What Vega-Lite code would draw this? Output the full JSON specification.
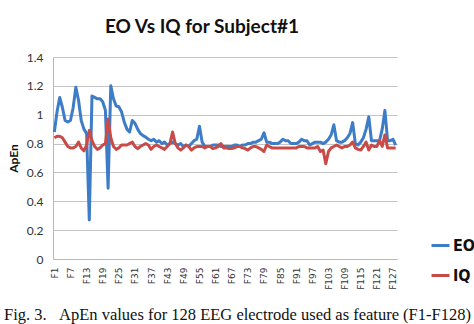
{
  "$schema": "https://vega.github.io/schema/vega-lite/v6.json",
  "width": 344,
  "height": 202,
  "autosize": {"type": "none"},
  "padding": {"left": 53, "top": 57, "right": 77, "bottom": 65},
  "background": "white",
  "title": {
    "text": "EO Vs IQ for Subject#1",
    "font": "Lato",
    "fontSize": 19,
    "fontWeight": "bold",
    "color": "#111111",
    "anchor": "middle",
    "dx": -23,
    "offset": 14
  },
  "data": {
    "values": [
      {"i":1,"EO":0.88,"IQ":0.84},{"i":2,"EO":1.02,"IQ":0.85},{"i":3,"EO":1.12,"IQ":0.85},{"i":4,"EO":1.05,"IQ":0.84},
      {"i":5,"EO":0.96,"IQ":0.81},{"i":6,"EO":0.95,"IQ":0.78},{"i":7,"EO":0.96,"IQ":0.77},{"i":8,"EO":1.05,"IQ":0.77},
      {"i":9,"EO":1.19,"IQ":0.78},{"i":10,"EO":1.10,"IQ":0.81},{"i":11,"EO":0.96,"IQ":0.77},{"i":12,"EO":0.90,"IQ":0.75},
      {"i":13,"EO":0.87,"IQ":0.79},{"i":14,"EO":0.27,"IQ":0.89},{"i":15,"EO":1.13,"IQ":0.82},{"i":16,"EO":1.12,"IQ":0.78},
      {"i":17,"EO":1.11,"IQ":0.76},{"i":18,"EO":1.11,"IQ":0.77},{"i":19,"EO":1.09,"IQ":0.79},{"i":20,"EO":1.03,"IQ":0.80},
      {"i":21,"EO":0.49,"IQ":0.97},{"i":22,"EO":1.20,"IQ":0.84},{"i":23,"EO":1.11,"IQ":0.78},{"i":24,"EO":1.06,"IQ":0.76},
      {"i":25,"EO":1.055,"IQ":0.77},{"i":26,"EO":1.02,"IQ":0.79},{"i":27,"EO":0.95,"IQ":0.79},{"i":28,"EO":0.90,"IQ":0.79},
      {"i":29,"EO":0.88,"IQ":0.80},{"i":30,"EO":0.96,"IQ":0.81},{"i":31,"EO":0.94,"IQ":0.78},{"i":32,"EO":0.90,"IQ":0.765},
      {"i":33,"EO":0.87,"IQ":0.78},{"i":34,"EO":0.855,"IQ":0.79},{"i":35,"EO":0.845,"IQ":0.80},{"i":36,"EO":0.83,"IQ":0.79},
      {"i":37,"EO":0.82,"IQ":0.76},{"i":38,"EO":0.83,"IQ":0.78},{"i":39,"EO":0.81,"IQ":0.79},{"i":40,"EO":0.82,"IQ":0.78},
      {"i":41,"EO":0.80,"IQ":0.77},{"i":42,"EO":0.81,"IQ":0.76},{"i":43,"EO":0.79,"IQ":0.78},{"i":44,"EO":0.80,"IQ":0.80},
      {"i":45,"EO":0.81,"IQ":0.88},{"i":46,"EO":0.80,"IQ":0.80},{"i":47,"EO":0.79,"IQ":0.77},{"i":48,"EO":0.80,"IQ":0.755},
      {"i":49,"EO":0.78,"IQ":0.77},{"i":50,"EO":0.79,"IQ":0.79},{"i":51,"EO":0.78,"IQ":0.78},{"i":52,"EO":0.80,"IQ":0.755},
      {"i":53,"EO":0.82,"IQ":0.77},{"i":54,"EO":0.83,"IQ":0.78},{"i":55,"EO":0.92,"IQ":0.78},{"i":56,"EO":0.81,"IQ":0.78},
      {"i":57,"EO":0.78,"IQ":0.77},{"i":58,"EO":0.78,"IQ":0.78},{"i":59,"EO":0.78,"IQ":0.78},{"i":60,"EO":0.79,"IQ":0.765},
      {"i":61,"EO":0.79,"IQ":0.77},{"i":62,"EO":0.79,"IQ":0.78},{"i":63,"EO":0.78,"IQ":0.80},{"i":64,"EO":0.78,"IQ":0.77},
      {"i":65,"EO":0.78,"IQ":0.77},{"i":66,"EO":0.78,"IQ":0.765},{"i":67,"EO":0.78,"IQ":0.765},{"i":68,"EO":0.79,"IQ":0.77},
      {"i":69,"EO":0.79,"IQ":0.78},{"i":70,"EO":0.78,"IQ":0.78},{"i":71,"EO":0.79,"IQ":0.77},{"i":72,"EO":0.79,"IQ":0.765},
      {"i":73,"EO":0.80,"IQ":0.755},{"i":74,"EO":0.80,"IQ":0.77},{"i":75,"EO":0.81,"IQ":0.78},{"i":76,"EO":0.81,"IQ":0.78},
      {"i":77,"EO":0.82,"IQ":0.77},{"i":78,"EO":0.83,"IQ":0.76},{"i":79,"EO":0.875,"IQ":0.745},{"i":80,"EO":0.81,"IQ":0.79},
      {"i":81,"EO":0.81,"IQ":0.78},{"i":82,"EO":0.80,"IQ":0.77},{"i":83,"EO":0.80,"IQ":0.77},{"i":84,"EO":0.80,"IQ":0.77},
      {"i":85,"EO":0.81,"IQ":0.77},{"i":86,"EO":0.83,"IQ":0.77},{"i":87,"EO":0.82,"IQ":0.77},{"i":88,"EO":0.82,"IQ":0.77},
      {"i":89,"EO":0.80,"IQ":0.77},{"i":90,"EO":0.80,"IQ":0.77},{"i":91,"EO":0.80,"IQ":0.77},{"i":92,"EO":0.81,"IQ":0.78},
      {"i":93,"EO":0.83,"IQ":0.78},{"i":94,"EO":0.82,"IQ":0.78},{"i":95,"EO":0.82,"IQ":0.77},{"i":96,"EO":0.79,"IQ":0.77},
      {"i":97,"EO":0.80,"IQ":0.77},{"i":98,"EO":0.81,"IQ":0.77},{"i":99,"EO":0.81,"IQ":0.78},{"i":100,"EO":0.81,"IQ":0.745},
      {"i":101,"EO":0.80,"IQ":0.755},{"i":102,"EO":0.81,"IQ":0.66},{"i":103,"EO":0.83,"IQ":0.745},{"i":104,"EO":0.86,"IQ":0.77},
      {"i":105,"EO":0.93,"IQ":0.78},{"i":106,"EO":0.82,"IQ":0.79},{"i":107,"EO":0.81,"IQ":0.78},{"i":108,"EO":0.81,"IQ":0.77},
      {"i":109,"EO":0.82,"IQ":0.78},{"i":110,"EO":0.84,"IQ":0.78},{"i":111,"EO":0.87,"IQ":0.79},{"i":112,"EO":0.945,"IQ":0.81},
      {"i":113,"EO":0.80,"IQ":0.77},{"i":114,"EO":0.79,"IQ":0.76},{"i":115,"EO":0.81,"IQ":0.755},{"i":116,"EO":0.84,"IQ":0.78},
      {"i":117,"EO":0.90,"IQ":0.81},{"i":118,"EO":0.985,"IQ":0.755},{"i":119,"EO":0.82,"IQ":0.79},{"i":120,"EO":0.82,"IQ":0.78},
      {"i":121,"EO":0.82,"IQ":0.78},{"i":122,"EO":0.82,"IQ":0.82},{"i":123,"EO":0.90,"IQ":0.78},{"i":124,"EO":1.03,"IQ":0.86},
      {"i":125,"EO":0.82,"IQ":0.77},{"i":126,"EO":0.82,"IQ":0.77},{"i":127,"EO":0.83,"IQ":0.77},{"i":128,"EO":0.79,"IQ":0.77}
    ]
  },
  "transform": [{"fold": ["EO", "IQ"], "as": ["series", "apen"]}],
  "mark": {"type": "line", "strokeWidth": 3, "strokeJoin": "round"},
  "encoding": {
    "x": {
      "field": "i",
      "type": "quantitative",
      "scale": {"domain": [0.5, 128.5], "nice": false, "zero": false},
      "axis": {
        "values": [1,7,13,19,25,31,37,43,49,55,61,67,73,79,85,91,97,103,109,115,121,127],
        "labelExpr": "'F' + datum.value",
        "labelAngle": -90,
        "labelAlign": "right",
        "labelBaseline": "middle",
        "labelFont": "DejaVu Sans",
        "labelFontSize": 9,
        "labelColor": "#333333",
        "labelPadding": 8,
        "ticks": false,
        "grid": false,
        "domainColor": "#b8b8b8",
        "domainWidth": 1,
        "labelOverlap": false,
        "labelFlush": false,
        "title": "Fig. 3.\u00a0\u00a0\u00a0ApEn values for 128 EEG electrode used as feature (F1-F128)",
        "titleFont": "Liberation Serif",
        "titleFontSize": 16.5,
        "titleFontWeight": "normal",
        "titleColor": "#111111",
        "titleX": 184,
        "titleY": 60,
        "titleBaseline": "alphabetic",
        "titleAnchor": "middle"
      }
    },
    "y": {
      "field": "apen",
      "type": "quantitative",
      "scale": {"domain": [0, 1.4], "nice": false},
      "axis": {
        "values": [0, 0.2, 0.4, 0.6, 0.8, 1, 1.2, 1.4],
        "format": "~g",
        "labelFont": "Lato",
        "labelFontSize": 12,
        "labelColor": "#333333",
        "labelPadding": 10,
        "ticks": false,
        "grid": true,
        "gridColor": "#c4c4c4",
        "gridWidth": 1,
        "domainColor": "#b8b8b8",
        "title": "ApEn",
        "titleFont": "Lato",
        "titleFontSize": 12,
        "titleFontWeight": "bold",
        "titleColor": "#111111",
        "titlePadding": 6
      }
    },
    "color": {
      "field": "series",
      "type": "nominal",
      "scale": {"domain": ["EO", "IQ"], "range": ["#3d7cc6", "#c84b47"]},
      "legend": {
        "title": null,
        "orient": "none",
        "legendX": 377,
        "legendY": 178,
        "padding": 0,
        "symbolType": "stroke",
        "symbolSize": 324,
        "symbolStrokeWidth": 3,
        "labelFont": "DejaVu Sans Condensed",
        "labelFontSize": 16,
        "labelFontWeight": "bold",
        "labelColor": "#111111",
        "labelOffset": 2,
        "rowPadding": 11
      }
    }
  },
  "config": {"view": {"stroke": null}}
}
